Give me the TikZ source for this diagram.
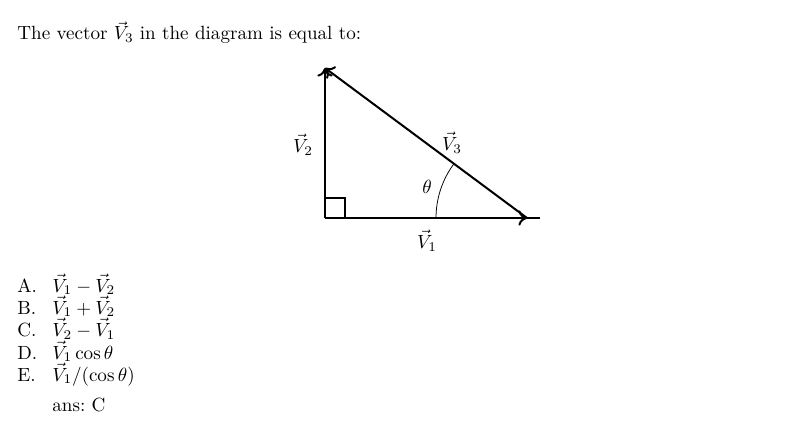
\documentclass[tikz,border=0pt]{standalone}
\usepackage{amsmath}
\usetikzlibrary{arrows.meta}
\begin{document}
\begin{tikzpicture}[x=0.524pt,y=-0.524pt,
  vec/.style={line width=1.05pt,-{To[length=4.5pt,width=8pt,line width=1.05pt]}},
  seg/.style={line width=1.05pt},
  txt/.style={anchor=base west,inner sep=0pt},
  lbl/.style={inner sep=0pt}]
\useasboundingbox (0,0) rectangle (804,427);
\node[txt] (q) at (17,40) {The vector $\vec{V}_3$ in the diagram is equal to:};
\coordinate (O) at (325,218);
\coordinate (T) at (325,68);
\coordinate (R) at (527,218);
\coordinate (E) at (540,218);
\draw[seg] (R) -- (E);
\draw[vec] (O) -- (R);
\draw[vec] (O) -- (T);
\draw[vec] (R) -- (T);
\draw[line width=0.9pt] (325,198) -- (345,198) -- (345,218);
\draw[line width=0.4pt] ([shift={(180:91)}]R) arc[start angle=180,end angle=216.6,radius=91];
\node[lbl] (l2) at (303,145) {$\vec{V}_2$};
\node[lbl] (l3) at (452,143) {$\vec{V}_3$};
\node[lbl] (lt) at (427,187) {$\theta$};
\node[lbl] (l1) at (427,241) {$\vec{V}_1$};
\node[txt] (a) at (17,292) {A.};
\node[txt] (am) at (52,292) {$\vec{V}_1-\vec{V}_2$};
\node[txt] (b) at (17,314) {B.};
\node[txt] (bm) at (52,314) {$\vec{V}_1+\vec{V}_2$};
\node[txt] (c) at (17,336.5) {C.};
\node[txt] (cm) at (52,336.5) {$\vec{V}_2-\vec{V}_1$};
\node[txt] (d) at (17,359) {D.};
\node[txt] (dm) at (52,359) {$\vec{V}_1\cos\theta$};
\node[txt] (e) at (17,381) {E.};
\node[txt] (em) at (52,381) {$\vec{V}_1/(\cos\theta)$};
\node[txt] (ans) at (52,411.5) {ans:\ C};
\end{tikzpicture}
\end{document}
